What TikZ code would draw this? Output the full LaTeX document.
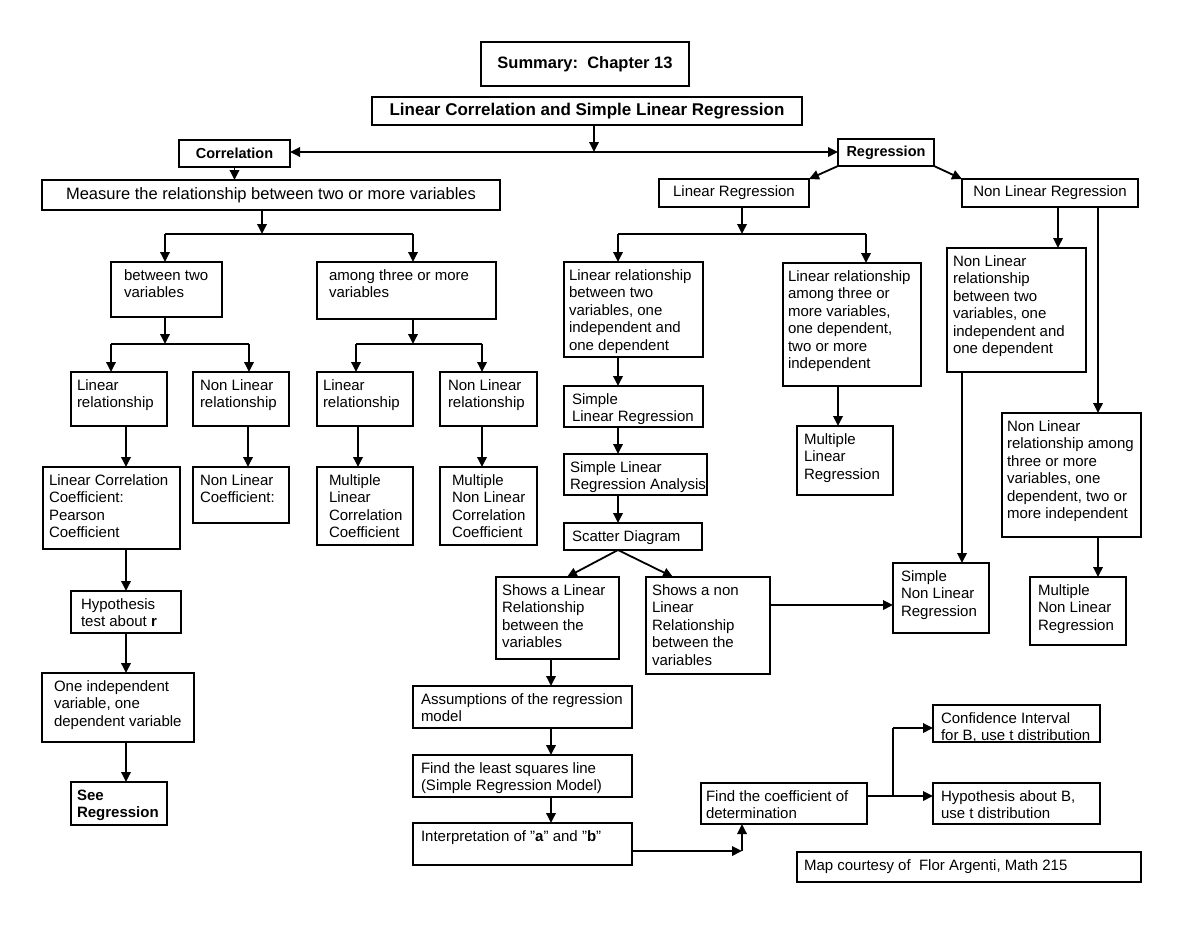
\documentclass[tikz,border=0pt]{standalone}
\usepackage{fontspec}
\setmainfont{Liberation Sans}
\usetikzlibrary{arrows.meta}
\tikzset{
  box/.style={draw, line width=1.8pt, inner sep=0pt, outer sep=0pt},
  arr/.style={line width=1.8pt, -{Triangle[length=10pt,width=9.5pt]}},
  ln/.style={line width=1.8pt},
}
\newcommand\bodyfont{\fontsize{15}{17.4}\selectfont}
% top-left aligned text box: name, x1, y1, x2, y2, left pad, text
\newcommand\bx[7]{%
  \pgfmathsetmacro\bw{#4-#2}%
  \pgfmathsetmacro\bh{#5-#3}%
  \node[box,anchor=north west,minimum width=\bw pt,minimum height=\bh pt] (#1) at (#2,-#3)
   {\parbox[t][\bh pt][t]{\bw pt}{\bodyfont\raggedright\leftskip=#6pt\rule{0pt}{18.5pt}#7}};}
% centred text box: name, x1, y1, x2, y2, font, text
\newcommand\cbx[7]{%
  \pgfmathsetmacro\bw{#4-#2}%
  \pgfmathsetmacro\bh{#5-#3}%
  \node[box,anchor=north west,minimum width=\bw pt,minimum height=\bh pt,align=center,font=#6] (#1) at (#2,-#3) {#7};}
\begin{document}
\begin{tikzpicture}[x=1pt,y=1pt]
\fill[white] (0,0) rectangle (1200,-927);
\useasboundingbox (0,0) rectangle (1200,-927);

% ---- headers
\cbx{summ}{481}{42}{689}{86}{\fontsize{16.5}{20}\selectfont\bfseries}{Summary:\ \ Chapter 13}
\cbx{title}{372}{97}{802}{125}{\fontsize{17}{20}\selectfont\bfseries}{Linear Correlation and Simple Linear Regression}
\cbx{corr}{179}{140}{290}{167}{\fontsize{14.5}{17}\selectfont\bfseries}{Correlation}
\cbx{regr}{838}{139}{934}{166}{\fontsize{14.5}{17}\selectfont\bfseries}{Regression}
\cbx{meas}{42}{180}{500}{210}{\fontsize{16.5}{20}\selectfont}{Measure the relationship between two or more variables}
\cbx{linreg}{659}{179}{809}{207}{\bodyfont}{Linear Regression}
\cbx{nlreg}{962}{179}{1138}{207}{\bodyfont}{Non Linear Regression}

% ---- correlation side
\bx{btw}{111}{262}{222}{317}{13}{between two\\variables}
\bx{among}{317}{262}{496}{319}{12}{among three or more\\variables}
\bx{lr1}{71}{372}{167}{426}{6}{Linear\\relationship}
\bx{nlr1}{193}{372}{289}{426}{7}{Non Linear\\relationship}
\bx{lr2}{317}{372}{413}{426}{6}{Linear\\relationship}
\bx{nlr2}{440}{372}{537}{426}{8}{Non Linear\\relationship}
\bx{lcc}{43}{467}{180}{549}{6}{Linear Correlation\\Coefficient:\\Pearson\\Coefficient}
\bx{nlc}{193}{467}{289}{523}{7}{Non Linear\\Coefficient:}
\bx{mlcc}{317}{467}{413}{545}{12}{Multiple\\Linear\\Correlation\\Coefficient}
\bx{mnlcc}{440}{467}{537}{545}{12}{Multiple\\Non Linear\\Correlation\\Coefficient}
\bx{hyp}{71}{591}{181}{633}{10}{Hypothesis\\test about \textbf{r}}
\bx{onei}{42}{673}{194}{742}{12}{One independent\\variable, one\\dependent variable}
\bx{see}{71}{782}{167}{825}{6}{\bfseries See\\Regression}

% ---- regression side
\bx{lrb}{564}{262}{703}{357}{5}{Linear relationship\\between two\\variables, one\\independent and\\one dependent}
\bx{lra}{783}{263}{921}{386}{5}{Linear relationship\\among three or\\more variables,\\one dependent,\\two or more\\independent}
\bx{slr}{564}{386}{703}{427}{8}{Simple\\Linear Regression}
\bx{slra}{564}{454}{707}{495}{6}{Simple Linear\\\mbox{Regression Analysis}}
\bx{scat}{564}{523}{702}{550}{8}{Scatter Diagram}
\bx{mlr}{797}{426}{893}{495}{7}{Multiple\\Linear\\Regression}
\bx{nlrb}{947}{248}{1086}{372}{6}{Non Linear\\relationship\\between two\\variables, one\\independent and\\one dependent}
\bx{nlra}{1002}{413}{1141}{537}{5}{Non Linear\\relationship among\\three or more\\variables, one\\dependent, two or\\more independent}
\bx{snlr}{893}{563}{989}{633}{8}{Simple\\Non Linear\\Regression}
\bx{mnlr}{1030}{577}{1126}{645}{8}{Multiple\\Non Linear\\Regression}
\bx{shl}{496}{577}{619}{659}{6}{Shows a Linear\\Relationship\\between the\\variables}
\bx{shn}{646}{577}{770}{674}{6}{Shows a non\\Linear\\Relationship\\between the\\variables}
\bx{assum}{413}{686}{632}{728}{8}{Assumptions of the regression\\model}
\bx{lsq}{413}{755}{632}{797}{8}{Find the least squares line\\(Simple Regression Model)}
\bx{interp}{413}{823}{632}{865}{8}{Interpretation of "\textbf{a}" and "\textbf{b}"}
\bx{fcd}{701}{783}{867}{824}{5}{Find the coefficient of\\determination}
\bx{ci}{933}{705}{1100}{742}{8}{Confidence Interval\\for B, use t distribution}
\bx{hb}{933}{783}{1100}{824}{8}{Hypothesis about B,\\use t distribution}
\bx{map}{797}{852}{1141}{882}{7}{Map courtesy of\ \ Flor Argenti, Math 215}

% ---- helper coordinates
\coordinate (x126) at (126,0);
\coordinate (x248) at (248,0);
\coordinate (x358) at (358,0);
\coordinate (x482) at (482,0);
\coordinate (x551) at (551,0);
\coordinate (x567) at (567,0);
\coordinate (x618) at (618,0);
\coordinate (x673) at (673,0);
\coordinate (x838) at (838,0);
\coordinate (x962) at (962,0);
\coordinate (x1058) at (1058,0);
\coordinate (x1098) at (1098,0);
\coordinate (y605) at (0,-605);

\coordinate (j0) at (594,-152);
\coordinate (j1) at (262,-234);
\coordinate (j1a) at (165,-234);
\coordinate (j1b) at (413,-234);
\coordinate (j2) at (165,-344);
\coordinate (j2a) at (111,-344);
\coordinate (j2b) at (249,-344);
\coordinate (j3) at (413,-344);
\coordinate (j3a) at (356,-344);
\coordinate (j3b) at (482,-344);
\coordinate (j4) at (742,-234);
\coordinate (j4a) at (618,-234);
\coordinate (j4b) at (866,-234);
\coordinate (cr) at (742,-851);
\coordinate (br) at (893,-796);
\coordinate (br2) at (893,-728);

% ---- connectors: top
\draw[arr] (title.south -| j0) -- (j0);
\draw[arr] (j0) -- (corr.east |- j0);
\draw[arr] (j0) -- (regr.west |- j0);
\draw[arr] (corr.south) -- (corr.south |- meas.north);
\draw[arr] (regr.south west) -- (linreg.north east);
\draw[arr] (regr.south east) -- (nlreg.north west);

% correlation tree
\draw[arr] (meas.south -| j1) -- (j1);
\draw[ln] (j1a) -- (j1b);
\draw[arr] (j1a) -- (j1a |- btw.north);
\draw[arr] (j1b) -- (j1b |- among.north);
\draw[arr] (btw.south -| j2) -- (j2);
\draw[ln] (j2a) -- (j2b);
\draw[arr] (j2a) -- (j2a |- lr1.north);
\draw[arr] (j2b) -- (j2b |- nlr1.north);
\draw[arr] (among.south -| j3) -- (j3);
\draw[ln] (j3a) -- (j3b);
\draw[arr] (j3a) -- (j3a |- lr2.north);
\draw[arr] (j3b) -- (j3b |- nlr2.north);
\draw[arr] (lr1.south -| x126) -- (lcc.north -| x126);
\draw[arr] (nlr1.south -| x248) -- (nlc.north -| x248);
\draw[arr] (lr2.south -| x358) -- (mlcc.north -| x358);
\draw[arr] (nlr2.south -| x482) -- (mnlcc.north -| x482);
\draw[arr] (lcc.south -| x126) -- (hyp.north -| x126);
\draw[arr] (hyp.south -| x126) -- (onei.north -| x126);
\draw[arr] (onei.south -| x126) -- (see.north -| x126);

% regression tree
\draw[arr] (linreg.south -| j4) -- (j4);
\draw[ln] (j4a) -- (j4b);
\draw[arr] (j4a) -- (j4a |- lrb.north);
\draw[arr] (j4b) -- (j4b |- lra.north);
\draw[arr] (lrb.south -| x618) -- (slr.north -| x618);
\draw[arr] (slr.south -| x618) -- (slra.north -| x618);
\draw[arr] (slra.south -| x618) -- (scat.north -| x618);
\draw[arr] (scat.south -| x618) -- (shl.north -| x567);
\draw[arr] (scat.south -| x618) -- (shn.north -| x673);
\draw[arr] (lra.south -| x838) -- (mlr.north -| x838);
\draw[arr] (nlreg.south -| x1058) -- (nlrb.north -| x1058);
\draw[arr] (nlreg.south -| x1098) -- (nlra.north -| x1098);
\draw[arr] (nlrb.south -| x962) -- (snlr.north -| x962);
\draw[arr] (nlra.south -| x1098) -- (mnlr.north -| x1098);
\draw[arr] (shn.east |- y605) -- (snlr.west |- y605);
\draw[arr] (shl.south -| x551) -- (assum.north -| x551);
\draw[arr] (assum.south -| x551) -- (lsq.north -| x551);
\draw[arr] (lsq.south -| x551) -- (interp.north -| x551);
\draw[arr] (interp.east |- cr) -- (cr);
\draw[arr] (cr) -- (fcd.south -| cr);
\draw[ln] (fcd.east |- br) -- (br);
\draw[arr] (br) -- (hb.west |- br);
\draw[ln] (br) -- (br2);
\draw[arr] (br2) -- (ci.west |- br2);
\end{tikzpicture}
\end{document}
